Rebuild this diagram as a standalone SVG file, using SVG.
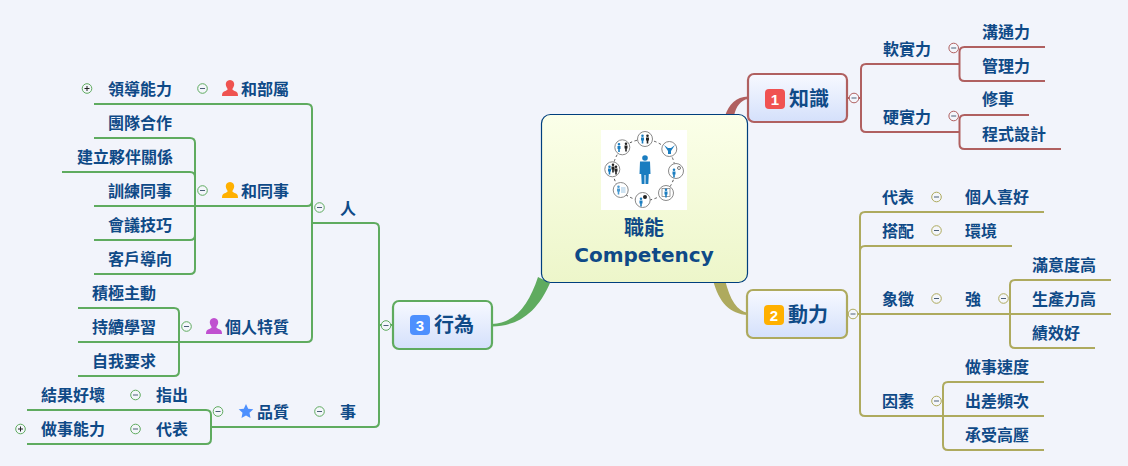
<svg xmlns="http://www.w3.org/2000/svg" width="1128" height="466" viewBox="0 0 1128 466">
<style>
text{font-family:"Noto Sans CJK TC","Noto Sans CJK SC","Liberation Sans",sans-serif;font-weight:700;fill:#0f4a87}
.s{font-size:16px}
.m{font-size:20px}
.line{fill:none;stroke-width:2}
.r{stroke:#b06060;color:#b06060}
.o{stroke:#aeaa5e;color:#aeaa5e}
.g{stroke:#5fab5f;color:#5fab5f}
.topic{stroke-width:2.2}
.badge{font:700 15px "Liberation Sans",sans-serif;fill:#fff}
.tog{fill:#f4f6fb;stroke-width:1}
.sgn{fill:none;stroke:#4b5f77;stroke-width:1}
.pic{fill:#fff;stroke:#8a8a8a;stroke-width:1}
.bl{fill:#1a7dc0}
.bk{fill:#222}
</style>
<defs>
<linearGradient id="tg" x1="0" y1="0" x2="0" y2="1"><stop offset="0" stop-color="#f7f9ff"/><stop offset="1" stop-color="#d4e0fb"/></linearGradient>
<linearGradient id="cg" x1="0" y1="0" x2="0" y2="1"><stop offset="0" stop-color="#fbffe9"/><stop offset="1" stop-color="#edf6ca"/></linearGradient>
<g id="minus"><circle class="tog" r="4.8" stroke="currentColor"/><path class="sgn" d="M-2.500,0H2.500"/></g>
<g id="plus"><circle class="tog" r="4.800" stroke="currentColor"/><path class="sgn" d="M-2.500,0H2.500M0,-2.500V2.500" style="stroke:#222"/></g>
<path id="person" d="M8,0C5,0 3.600,2.200 3.800,4.800C4,6.800 5.200,8 5.600,9C5.800,10 4,10.600 2,11.600C0.600,12.300 0,13.600 0,16H16C16,13.600 15.400,12.300 14,11.600C12,10.600 10.200,10 10.400,9C10.800,8 12,6.800 12.200,4.800C12.400,2.200 11,0 8,0Z"/>
<path id="mini" d="M0,-4.500a1.300,1.300 0 1 1 0,2.600a1.300,1.300 0 1 1 0,-2.600ZM-1.500,-1.500H1.500V1.500H0.800V4.500H-0.800V1.500H-1.500Z"/>
</defs>
<rect width="1128" height="466" fill="#f2f4fb"/>

<g id="connectors">
<path fill="#b06060" d="M725,116C729,104 736,97 748,96.500V99C741,100 736,106 734,116Z"/>
<path fill="#aeaa5e" d="M713,280H725C730,300 737,311 748,313V315C730,314 719,303 713,280Z"/>
<path fill="#5fab5f" d="M492,324C516,323 529,304 538,277L550,283C537,313 518,326 492,326.500Z"/>
<g class="line r">
<path d="M847,98H861"/>
<path d="M959,64H866Q861,64 861,69V127Q861,132 866,132H959"/>
<path d="M1045,47H964.500Q959.500,47 959.500,52V76Q959.500,81 964.500,81H1045"/>
<path d="M1029,115H964.500Q959.500,115 959.500,120V144Q959.500,149 964.500,149H1061"/>
</g>
<g class="line o">
<path d="M1044,212H865Q860,212 860,217V411Q860,416 865,416H1044"/>
<path d="M1012,246H865Q860,246 860,251"/>
<path d="M847,314H1111"/>
<path d="M1111,280H1015Q1010,280 1010,285V343Q1010,348 1015,348H1095"/>
<path d="M1044,382H948Q943,382 943,387V445Q943,450 948,450H1044"/>
</g>
<g class="line g">
<path d="M392,325H379"/>
<path d="M313,223H374Q379,223 379,228V422Q379,427 374,427H212"/>
<path d="M94,104H307Q312,104 312,109V337Q312,342 307,342H78"/>
<path d="M94,206H307Q312,206 312,201"/>
<path d="M94,138H190Q195,138 195,143V269Q195,274 190,274H94"/>
<path d="M62,172H190Q195,172 195,177"/>
<path d="M94,240H190Q195,240 195,235"/>
<path d="M78,308H174Q179,308 179,313V371Q179,376 174,376H78"/>
<path d="M27,410H206Q211,410 211,415V439Q211,444 206,444H27"/>
</g>
</g>

<g id="central">
<rect x="541.500" y="114.500" width="206" height="168" rx="9" fill="url(#cg)" stroke="#003f7d" stroke-width="1.200"/>
<rect x="601" y="130" width="86" height="80" fill="#fff"/>
<ellipse cx="644" cy="170" rx="31" ry="30.500" fill="none" stroke="#555" stroke-width="1" stroke-dasharray="2.500 2.500"/>
<circle class="bl" cx="645" cy="158" r="2.800"/>
<path class="bl" d="M640,161.500H650L650.500,174H648.800L648.300,184H645.500V175H644.500V184H641.700L641.200,174H639.500Z"/>
<g>
<circle class="pic" cx="645" cy="139" r="7.500"/><use href="#mini" x="642.500" y="139" class="bl"/><use href="#mini" x="647.500" y="139" class="bk"/>
<circle class="pic" cx="669.300" cy="149" r="7.500"/><path class="bl" d="M664,145L668,148H671L675,145L671,151V154H668V151Z"/>
<circle class="pic" cx="676" cy="171" r="7.500"/><use href="#mini" x="674" y="173" class="bl"/><circle cx="679" cy="168" r="1.500" fill="none" stroke="#777"/>
<circle class="pic" cx="666" cy="193" r="7.500"/><rect x="662" y="188.500" width="8" height="8" fill="none" stroke="#777" stroke-width=".7"/><use href="#mini" x="666" y="193" class="bl"/>
<circle class="pic" cx="642.700" cy="200" r="7.500"/><use href="#mini" x="641" y="202" class="bl"/><circle class="bk" cx="645" cy="197" r="2"/>
<circle class="pic" cx="620.700" cy="190" r="7.500"/><use href="#mini" x="618.500" y="190" fill="#4a9ad0"/><rect x="621" y="187" width="4.500" height="6" fill="#cfe3f2"/>
<circle class="pic" cx="612.300" cy="169.300" r="7.500"/><use href="#mini" x="609.500" y="170" class="bl"/><use href="#mini" x="613" y="168" class="bk"/><use href="#mini" x="616" y="170" class="bk"/>
<circle class="pic" cx="622.300" cy="147.300" r="7.500"/><use href="#mini" x="619" y="147.500" class="bl"/><use href="#mini" x="626" y="147" class="bk"/>
</g>
<text class="m" text-anchor="middle" x="644" y="235">職能</text>
<text class="m" text-anchor="middle" x="644" y="262" style="font-family:'DejaVu Sans',sans-serif">Competency</text>
</g>

<g id="topic-1">
<rect class="topic r" x="748" y="74" width="99" height="48" rx="6" fill="url(#tg)"/>
<rect x="765" y="89" width="20" height="20" rx="4" fill="#f05252"/>
<text class="badge" x="775" y="104.500" text-anchor="middle">1</text>
<text class="m" x="789" y="106">知識</text>
<use href="#minus" x="854" y="98" class="r"/>
</g>
<g id="topic-2">
<rect class="topic o" x="747" y="290" width="100" height="48" rx="6" fill="url(#tg)"/>
<rect x="764" y="305" width="20" height="20" rx="4" fill="#ffb000"/>
<text class="badge" x="774" y="320.500" text-anchor="middle">2</text>
<text class="m" x="788" y="322">動力</text>
<use href="#minus" x="853" y="314" class="o"/>
</g>
<g id="topic-3">
<rect class="topic g" x="393" y="301" width="99" height="48" rx="6" fill="url(#tg)"/>
<rect x="410" y="315" width="20" height="20" rx="4" fill="#4d90fe"/>
<text class="badge" x="420" y="330.500" text-anchor="middle">3</text>
<text class="m" x="434" y="332">行為</text>
<use href="#minus" x="386" y="325.500" class="g"/>
</g>

<g id="n-ruan"><text class="s" x="883" y="55">軟實力</text><use href="#minus" x="953.700" y="48" class="r"/></g>
<g id="n-yin"><text class="s" x="883" y="123">硬實力</text><use href="#minus" x="953.700" y="116" class="r"/></g>
<g id="n-gt"><text class="s" x="982" y="38">溝通力</text></g>
<g id="n-gl"><text class="s" x="982" y="72">管理力</text></g>
<g id="n-xc"><text class="s" x="982" y="105">修車</text></g>
<g id="n-cs"><text class="s" x="982" y="140">程式設計</text></g>

<g id="n-db"><text class="s" x="882" y="203">代表</text><use href="#minus" x="936.500" y="197" class="o"/></g>
<g id="n-grxh"><text class="s" x="965" y="203">個人喜好</text></g>
<g id="n-dp"><text class="s" x="882" y="237">搭配</text><use href="#minus" x="936.500" y="230.500" class="o"/></g>
<g id="n-hj"><text class="s" x="965" y="237">環境</text></g>
<g id="n-xz"><text class="s" x="882" y="305">象徵</text><use href="#minus" x="936.500" y="298.500" class="o"/></g>
<g id="n-q"><text class="s" x="965" y="305">強</text><use href="#minus" x="1003.500" y="298.500" class="o"/></g>
<g id="n-my"><text class="s" x="1032" y="271">滿意度高</text></g>
<g id="n-sc"><text class="s" x="1032" y="305">生產力高</text></g>
<g id="n-jx"><text class="s" x="1032" y="339">績效好</text></g>
<g id="n-ys"><text class="s" x="882" y="407">因素</text><use href="#minus" x="936.500" y="401" class="o"/></g>
<g id="n-zs"><text class="s" x="965" y="373">做事速度</text></g>
<g id="n-cc"><text class="s" x="965" y="407">出差頻次</text></g>
<g id="n-cy"><text class="s" x="965" y="441">承受高壓</text></g>

<g id="n-ren"><text class="s" x="340" y="214">人</text><use href="#minus" x="319.500" y="207.500" class="g"/></g>
<g id="n-bs"><use href="#person" x="222" y="80" fill="#ef5350"/><text class="s" x="241" y="95">和部屬</text><use href="#minus" x="202.500" y="88.500" class="g"/></g>
<g id="n-ld"><text class="s" x="108" y="95">領導能力</text><use href="#plus" x="87" y="88.500" class="g"/></g>
<g id="n-ts"><use href="#person" x="222" y="182" fill="#ffb000"/><text class="s" x="241" y="197">和同事</text><use href="#minus" x="202.500" y="190.500" class="g"/></g>
<g id="n-td"><text class="s" x="108" y="129">團隊合作</text></g>
<g id="n-jl"><text class="s" x="77" y="163">建立夥伴關係</text></g>
<g id="n-xl"><text class="s" x="108" y="197">訓練同事</text></g>
<g id="n-hy"><text class="s" x="108" y="231">會議技巧</text></g>
<g id="n-kh"><text class="s" x="108" y="265">客戶導向</text></g>
<g id="n-gr"><use href="#person" x="206" y="318" fill="#c050d0"/><text class="s" x="225" y="333">個人特質</text><use href="#minus" x="186.500" y="326.500" class="g"/></g>
<g id="n-jj"><text class="s" x="92" y="299">積極主動</text></g>
<g id="n-cx"><text class="s" x="92" y="333">持續學習</text></g>
<g id="n-zw"><text class="s" x="92" y="367">自我要求</text></g>
<g id="n-shi"><text class="s" x="340" y="418">事</text><use href="#minus" x="319.500" y="411.500" class="g"/></g>
<g id="n-pz"><path fill="#4d90fe" d="M246,404L248.200,408.700L253.300,409.300L249.500,412.800L250.500,418L246,415.400L241.500,418L242.500,412.800L238.700,409.300L243.800,408.700Z"/><text class="s" x="257" y="418">品質</text><use href="#minus" x="218" y="411.500" class="g"/></g>
<g id="n-zc"><text class="s" x="156" y="401">指出</text><use href="#minus" x="135.500" y="395" class="g"/></g>
<g id="n-jg"><text class="s" x="41" y="401">結果好壞</text></g>
<g id="n-db2"><text class="s" x="156" y="435">代表</text><use href="#minus" x="135.500" y="429" class="g"/></g>
<g id="n-zn"><text class="s" x="41" y="435">做事能力</text><use href="#plus" x="20.500" y="429" class="g"/></g>
</svg>
